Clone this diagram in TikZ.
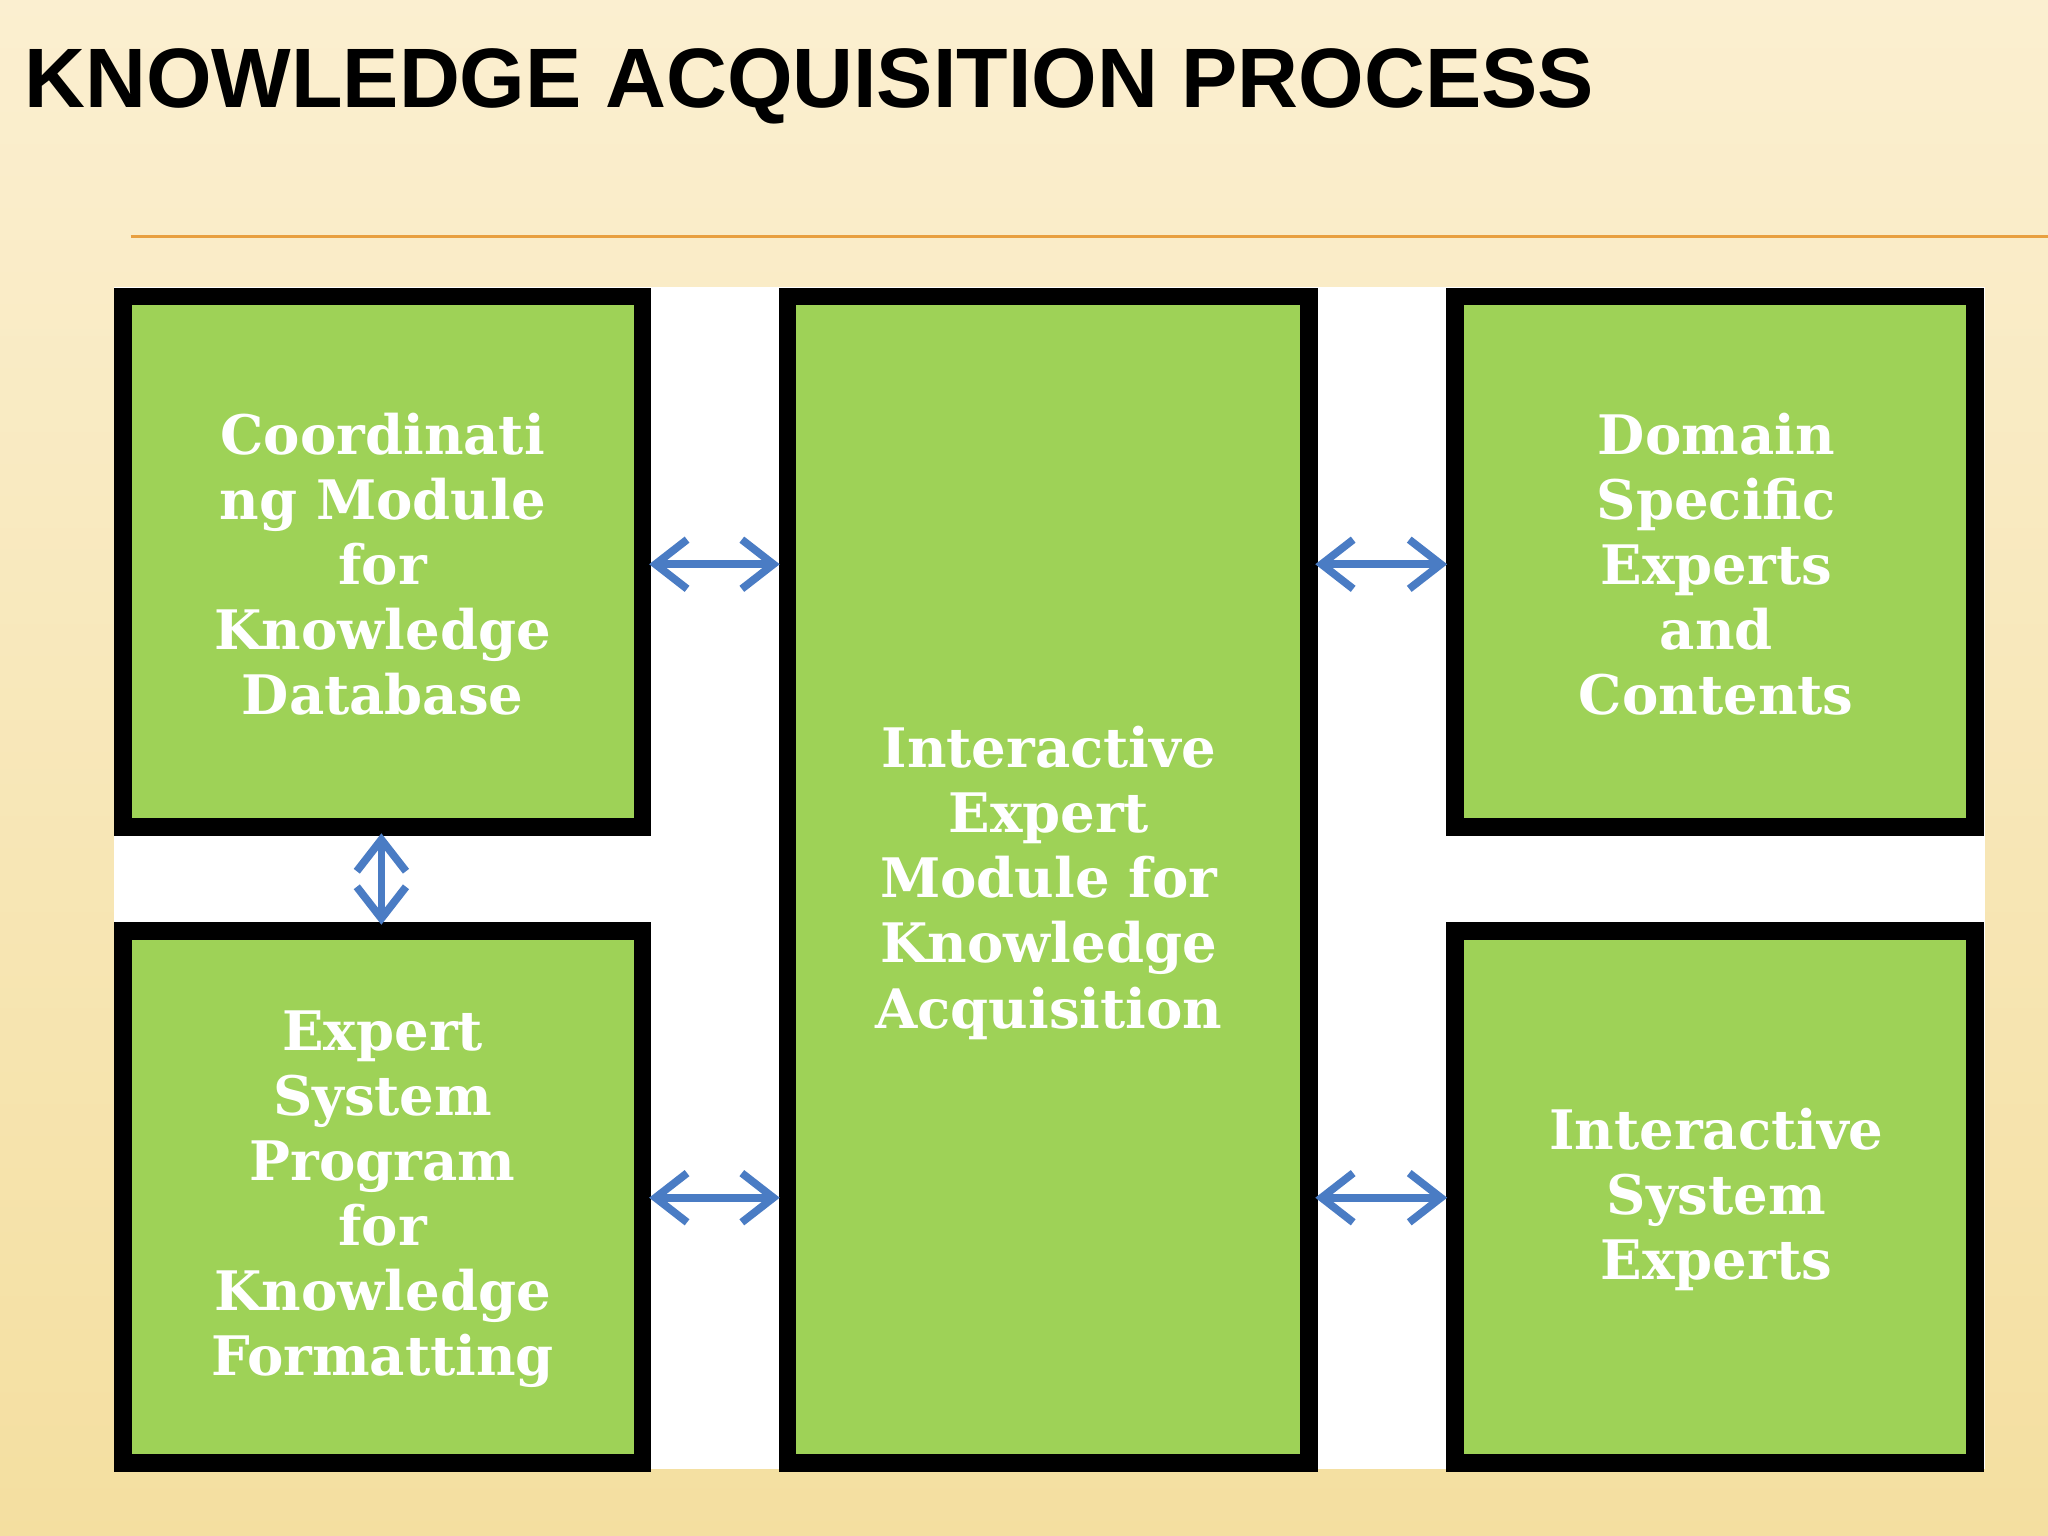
\documentclass[tikz,border=0pt]{standalone}
\usepackage{fontspec}
\setmainfont{DejaVu Serif}
\newfontfamily\titlefont{Liberation Sans}
\usetikzlibrary{arrows.meta}
\definecolor{bgtop}{HTML}{FBEFD0}
\definecolor{bgbot}{HTML}{F4DFA0}
\definecolor{boxgreen}{HTML}{9ED257}
\definecolor{arrowblue}{HTML}{4A7CC4}
\definecolor{lineorange}{HTML}{E8A040}
\begin{document}
\begin{tikzpicture}[x=0.013061cm,y=-0.013061cm,
  box/.style={draw=black,line width=5pt,fill=boxgreen},
  lbl/.style={text=white,font=\bfseries\fontsize{15.5}{18.5}\selectfont,align=center},
  dbl/.style={arrowblue,line width=2.2pt,{Straight Barb[length=9pt,width=14pt]}-{Straight Barb[length=9pt,width=14pt]}}]
\useasboundingbox (0,0) rectangle (1568,1176);
\shade[top color=bgtop,bottom color=bgbot] (0,0) rectangle (1568,1176);
\node[anchor=base west,font=\titlefont\bfseries\fontsize{24}{24}\selectfont,inner sep=0] (title) at (18,82) {KNOWLEDGE ACQUISITION PROCESS};
\coordinate (l1) at (100,181); \coordinate (l2) at (1568,181);
\draw[lineorange,line width=1pt] (l1) -- (l2);
\fill[white] (87,220) rectangle (1520,1125);
\path[box] (94,227) rectangle (492,633);
\path[box] (94,713) rectangle (492,1120);
\path[box] (603,227) rectangle (1002,1120);
\path[box] (1114,227) rectangle (1512,633);
\path[box] (1114,713) rectangle (1512,1120);
\node[lbl] (tl) at (293,432) {Coordinati\\ng Module\\for\\Knowledge\\Database};
\node[lbl] (bl) at (293,918) {Expert\\System\\Program\\for\\Knowledge\\Formatting};
\node[lbl] (c) at (803,676) {Interactive\\Expert\\Module for\\Knowledge\\Acquisition};
\node[lbl] (tr) at (1314,432) {Domain\\Specific\\Experts\\and\\Contents};
\node[lbl] (br) at (1314,918) {Interactive\\System\\Experts};
\coordinate (a1) at (497,432); \coordinate (a2) at (597,432);
\coordinate (b1) at (497,917); \coordinate (b2) at (597,917);
\coordinate (c1) at (1007,432); \coordinate (c2) at (1108,432);
\coordinate (d1) at (1007,917); \coordinate (d2) at (1108,917);
\coordinate (v1) at (292,638); \coordinate (v2) at (292,708);
\draw[dbl] (a1) -- (a2);
\draw[dbl] (b1) -- (b2);
\draw[dbl] (c1) -- (c2);
\draw[dbl] (d1) -- (d2);
\draw[dbl] (v1) -- (v2);
\end{tikzpicture}
\end{document}
